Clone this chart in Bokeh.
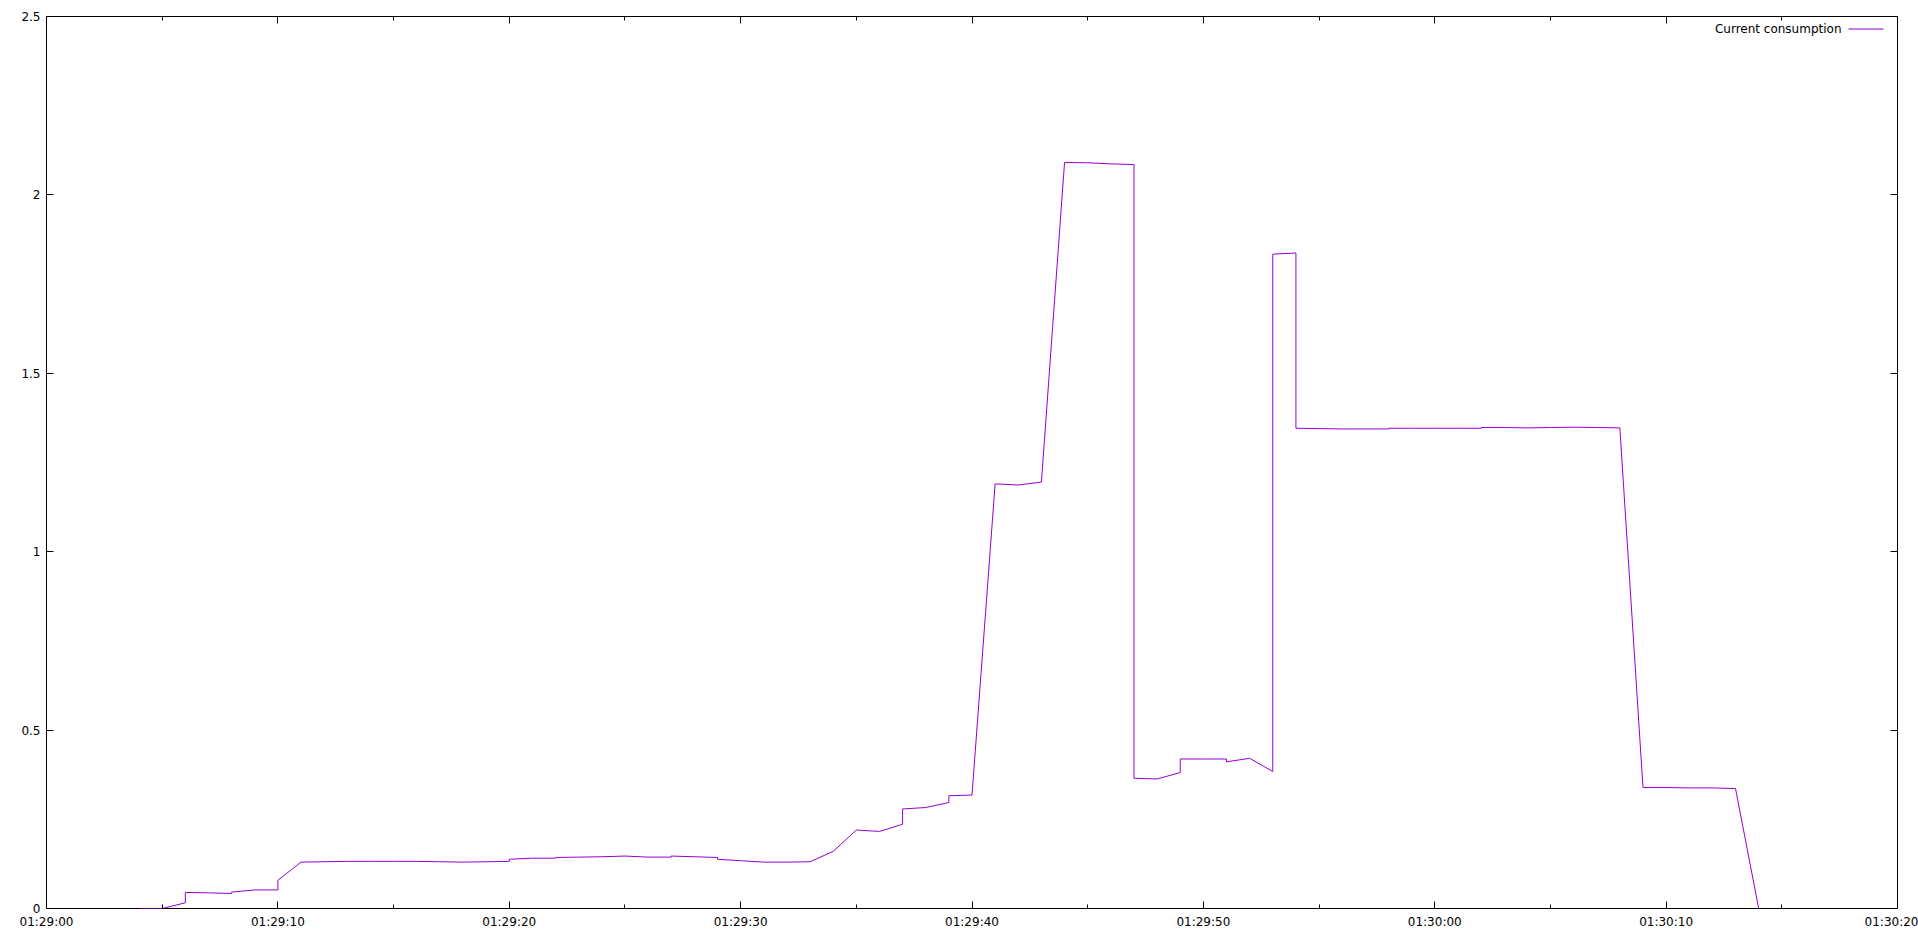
import pandas as pd
from bokeh.plotting import figure
from bokeh.models import (DatetimeTickFormatter, FixedTicker, Range1d, LinearAxis,
                          DatetimeAxis, Label, BoxAnnotation, ColumnDataSource)
from bokeh.embed import file_html
from bokeh.resources import INLINE

DAY = "2021-01-01 "

times = [
    "01:29:04", "01:29:05", "01:29:06", "01:29:06", "01:29:07", "01:29:08", "01:29:08",
    "01:29:09", "01:29:10", "01:29:10", "01:29:11", "01:29:12", "01:29:13", "01:29:14",
    "01:29:15", "01:29:16", "01:29:17", "01:29:18", "01:29:19", "01:29:20", "01:29:20",
    "01:29:21", "01:29:22", "01:29:22", "01:29:23", "01:29:24", "01:29:25", "01:29:26",
    "01:29:27", "01:29:27", "01:29:28", "01:29:29", "01:29:29", "01:29:30", "01:29:31",
    "01:29:32", "01:29:33", "01:29:34", "01:29:35", "01:29:36", "01:29:37", "01:29:37",
    "01:29:38", "01:29:39", "01:29:39", "01:29:40", "01:29:41", "01:29:42", "01:29:43",
    "01:29:44", "01:29:45", "01:29:46", "01:29:47", "01:29:47", "01:29:48", "01:29:49",
    "01:29:49", "01:29:50", "01:29:51", "01:29:51", "01:29:52", "01:29:53", "01:29:53",
    "01:29:54", "01:29:54", "01:29:55", "01:29:56", "01:29:57", "01:29:58", "01:29:58",
    "01:29:59", "01:30:00", "01:30:01", "01:30:02", "01:30:02", "01:30:03", "01:30:04",
    "01:30:05", "01:30:06", "01:30:07", "01:30:08", "01:30:09", "01:30:10", "01:30:11",
    "01:30:12", "01:30:13", "01:30:14",
]
current = [
    0.0, 0.0, 0.016, 0.045, 0.044, 0.042, 0.046,
    0.052, 0.052, 0.079, 0.130, 0.131, 0.132, 0.132,
    0.132, 0.132, 0.131, 0.130, 0.131, 0.132, 0.138,
    0.141, 0.141, 0.143, 0.144, 0.145, 0.147, 0.144,
    0.144, 0.147, 0.145, 0.143, 0.138, 0.134, 0.130,
    0.130, 0.131, 0.160, 0.220, 0.216, 0.236, 0.279,
    0.283, 0.297, 0.316, 0.318, 1.190, 1.187, 1.195,
    2.091, 2.090, 2.087, 2.085, 0.365, 0.363, 0.381,
    0.419, 0.419, 0.419, 0.411, 0.421, 0.384, 1.834,
    1.837, 1.346, 1.345, 1.344, 1.344, 1.344, 1.346,
    1.346, 1.346, 1.346, 1.346, 1.348, 1.348, 1.347,
    1.348, 1.349, 1.348, 1.347, 0.339, 0.339, 0.338,
    0.338, 0.336, 0.0,
]

x_tick_labels = ["01:29:00", "01:29:10", "01:29:20", "01:29:30", "01:29:40",
                 "01:29:50", "01:30:00", "01:30:10", "01:30:20"]
y_ticks = [0, 0.5, 1, 1.5, 2, 2.5]
y_tick_labels = ["0", "0.5", "1", "1.5", "2", "2.5"]
series_name = "Current consumption"
LINE_COLOR = "#9400D3"
FONT = "DejaVu Sans"

t = pd.to_datetime([DAY + s for s in times])
src = ColumnDataSource(dict(t=t, v=current))

major_ts = pd.to_datetime([DAY + s for s in x_tick_labels])
major_ms = [int(ts.value // 10**6) for ts in major_ts]
minor_ms = [(a + b) / 2 for a, b in zip(major_ms[:-1], major_ms[1:])]

p = figure(width=1918, height=931, x_axis_type="datetime",
           output_backend="svg", toolbar_location=None,
           x_range=Range1d(major_ts[0], major_ts[-1]),
           y_range=Range1d(y_ticks[0], y_ticks[-1]),
           min_border_left=46, min_border_right=21,
           min_border_top=16, min_border_bottom=22)
p.background_fill_color = "white"
p.border_fill_color = "white"
p.outline_line_color = "black"
p.outline_line_width = 1
p.xgrid.grid_line_color = None
p.ygrid.grid_line_color = None

p.line("t", "v", source=src, line_color=LINE_COLOR, line_width=1)

xticker = FixedTicker(ticks=major_ms, minor_ticks=minor_ms)
yticker = FixedTicker(ticks=y_ticks, minor_ticks=[])
fmt = DatetimeTickFormatter(milliseconds="%H:%M:%S", seconds="%H:%M:%S",
                            minsec="%H:%M:%S", minutes="%H:%M:%S",
                            hourmin="%H:%M:%S", hours="%H:%M:%S")

def style(ax):
    ax.axis_line_color = None
    ax.major_tick_in = 7
    ax.major_tick_out = 0
    ax.minor_tick_in = 4
    ax.minor_tick_out = 0
    ax.major_tick_line_color = "black"
    ax.minor_tick_line_color = "black"
    ax.major_label_text_font = FONT
    ax.major_label_text_color = "black"
    ax.major_label_text_font_size = "12px"
    ax.major_label_standoff = 6

p.xaxis.ticker = xticker
p.xaxis.formatter = fmt
p.yaxis.ticker = yticker
p.yaxis.major_label_overrides = dict(zip(y_ticks, y_tick_labels))
for ax in p.xaxis:
    style(ax)
for ax in p.yaxis:
    style(ax)

# mirrored ticks on top and right (label-free: drawn as "minor" ticks only)
def mirror(ax, tick_len):
    ax.axis_line_color = None
    ax.major_tick_line_color = None
    ax.major_tick_in = 0
    ax.major_tick_out = 0
    ax.minor_tick_in = tick_len
    ax.minor_tick_out = 0
    ax.minor_tick_line_color = "black"
    ax.major_label_standoff = 0
    ax.major_label_text_font_size = "12px"
    return ax

p.add_layout(mirror(DatetimeAxis(ticker=FixedTicker(ticks=[], minor_ticks=major_ms)), 7), "above")
p.add_layout(mirror(DatetimeAxis(ticker=FixedTicker(ticks=[], minor_ticks=minor_ms)), 4), "above")
p.add_layout(mirror(LinearAxis(ticker=FixedTicker(ticks=[], minor_ticks=y_ticks)), 7), "right")

# key (gnuplot style: text then sample line), placed in screen units inside the frame
p.add_layout(Label(x=1795, y=879.5, x_units="screen", y_units="screen",
                   text=series_name, text_align="right", text_baseline="middle",
                   text_font=FONT, text_font_size="12px", text_color="black"))
p.add_layout(BoxAnnotation(left=1802, right=1837, bottom=879, top=880,
                           left_units="screen", right_units="screen",
                           bottom_units="screen", top_units="screen",
                           fill_color=LINE_COLOR, fill_alpha=1.0,
                           line_color=None))

open("out.html", "w").write(file_html(p, INLINE))
